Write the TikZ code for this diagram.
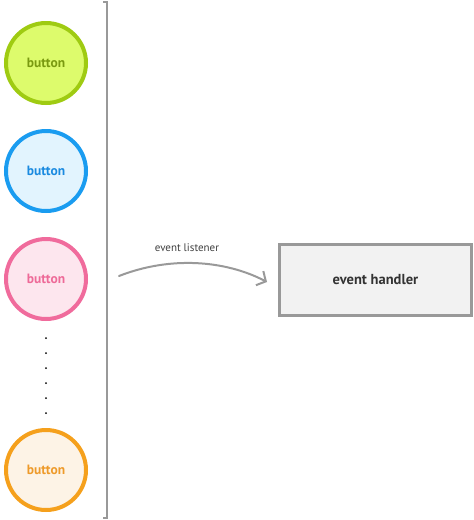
\documentclass[tikz,border=0pt]{standalone}
\usepackage{fontspec}
\setmainfont{PT Sans}
\usetikzlibrary{arrows.meta}
\definecolor{gS}{HTML}{9FCB12}\definecolor{gF}{HTML}{DDFB6C}\definecolor{gT}{HTML}{7A9A10}
\definecolor{bS}{HTML}{1A9CF0}\definecolor{bF}{HTML}{E2F4FE}\definecolor{bT}{HTML}{1A8AE0}
\definecolor{pS}{HTML}{F06B9C}\definecolor{pF}{HTML}{FDE6EE}\definecolor{pT}{HTML}{EE6A98}
\definecolor{oS}{HTML}{F5A01C}\definecolor{oF}{HTML}{FDF3E6}\definecolor{oT}{HTML}{EE9A2A}
\definecolor{lineG}{HTML}{999999}
\definecolor{boxF}{HTML}{F2F2F2}
\begin{document}
\begin{tikzpicture}[x=1pt,y=-1pt,
  btn/.style={circle,line width=4pt,minimum size=80pt,inner sep=0pt,font=\fontsize{13.5}{16}\selectfont\bfseries},
  dotn/.style={circle,fill=black,inner sep=0pt,minimum size=2pt},
  handler/.style={draw=lineG,line width=3.5pt,fill=boxF,minimum width=192pt,minimum height=71pt,font=\fontsize{14.5}{18}\selectfont\bfseries,text=black!80},
  conn/.style={draw=lineG,line width=2pt,line cap=round}]
\useasboundingbox (0,0) rectangle (474,520);
\node[btn,draw=gS,fill=gF,text=gT] (b1) at (46,63) {button};
\node[btn,draw=bS,fill=bF,text=bT] (b2) at (46,171) {button};
\node[btn,draw=pS,fill=pF,text=pT] (b3) at (46,279) {button};
\node[btn,draw=oS,fill=oF,text=oT] (b4) at (46,470) {button};
\foreach \i/\y in {1/338,2/353,3/368,4/383,5/398,6/413}
  \node[dotn] (d\i) at (46,\y) {};
\coordinate (bt) at (103,2);
\coordinate (bu) at (107,2);
\coordinate (bl) at (107,518);
\coordinate (bb) at (103,518);
\draw[conn,line cap=butt] (bt) -- (bu) -- (bl) -- (bb);
\node[handler] (h) at (375.5,280) {event handler};
\coordinate (as) at (119,276);
\coordinate (ae) at (267,282);
\draw[conn,-{Straight Barb[length=7pt,width=16pt,line width=2pt]}] (as) .. controls (170,256) and (225,260) .. (ae);
\node[font=\fontsize{11}{13}\selectfont,text=black!75] (lbl) at (187,248) {event listener};
\end{tikzpicture}
\end{document}
